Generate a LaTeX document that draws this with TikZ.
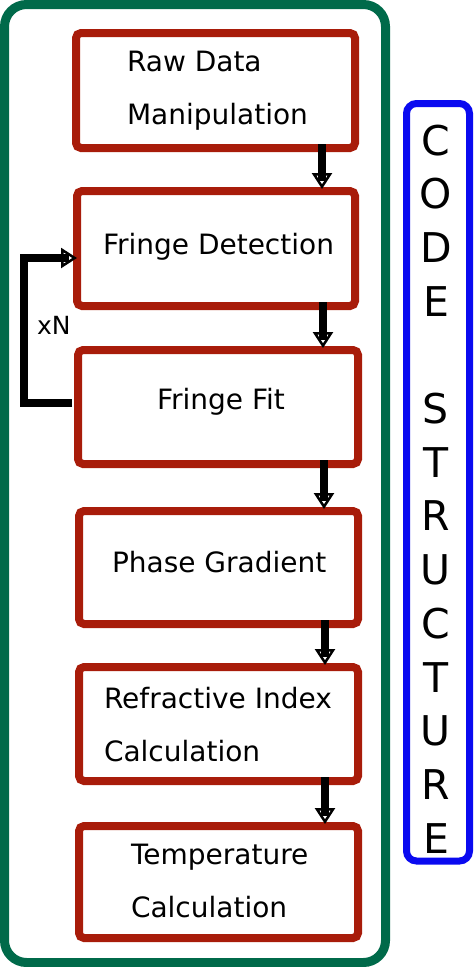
\documentclass[tikz,border=0pt]{standalone}
\usepackage{fontspec}
\setmainfont{DejaVu Sans}
\usetikzlibrary{arrows.meta}
\definecolor{boxred}{HTML}{A81C0A}
\definecolor{framegreen}{HTML}{006A4A}
\definecolor{sideblue}{HTML}{0A0AF0}
\begin{document}
\begin{tikzpicture}[x=1pt,y=-1pt,
  stepbox/.style={draw=boxred, line width=8pt, rounded corners=5pt, rectangle, inner sep=0pt, outer sep=0pt},
  lbl/.style={anchor=base west, inner sep=0pt, outer sep=0pt, font=\fontsize{28}{33}\selectfont},
  flow/.style={line width=8pt, line join=miter, -{Triangle[open,width=20pt,length=16pt,line width=2.5pt,fill=white]}},
  shaft/.style={line width=8pt},
  letter/.style={anchor=base, inner sep=0pt, outer sep=0pt, font=\fontsize{41}{49}\selectfont}]
\useasboundingbox (0,0) rectangle (474,967);
% outer frame
\draw[framegreen, line width=9pt, rounded corners=22pt] (4.5,4.5) rectangle (385.5,962.5);
% side box
\draw[sideblue, line width=7pt, rounded corners=10pt] (406.5,103.5) rectangle (469.5,861);
% boxes
\node[stepbox, minimum width=279pt, minimum height=115pt] (b1) at (215.5,90.5) {};
\node[stepbox, minimum width=278pt, minimum height=115pt] (b2) at (216,248.5) {};
\node[stepbox, minimum width=280pt, minimum height=114pt] (b3) at (218,407) {};
\node[stepbox, minimum width=279pt, minimum height=113pt] (b4) at (218.5,567.5) {};
\node[stepbox, minimum width=279pt, minimum height=114pt] (b5) at (218.5,724) {};
\node[stepbox, minimum width=279pt, minimum height=112pt] (b6) at (218.5,882) {};
% labels
\node[lbl] (t1a) at (127,71) {Raw Data};
\node[lbl] (t1b) at (127,124) {Manipulation};
\node[lbl] (t2) at (103,254) {Fringe Detection};
\node[lbl] (t3) at (157,409) {Fringe Fit};
\node[lbl] (t4) at (112,572) {Phase Gradient};
\node[lbl] (t5a) at (104,708) {Refractive Index};
\node[lbl] (t5b) at (104,761) {Calculation};
\node[lbl] (t6a) at (131,864) {Temperature};
\node[lbl] (t6b) at (131,917) {Calculation};
\node[lbl, font=\fontsize{25}{30}\selectfont] (xn) at (37,334) {xN};
% arrows
\coordinate (ax1) at (322,0);
\coordinate (ax2) at (323,0);
\coordinate (ax3) at (324,0);
\coordinate (ax4) at (325,0);
\coordinate (ax5) at (325,0);
\foreach \s/\t/\a in {b1/b2/ax1, b2/b3/ax2, b3/b4/ax3, b4/b5/ax4, b5/b6/ax5} {
  \draw[flow, shorten <=-4pt, shorten >=2pt] (\s.south -| \a) -- (\t.north -| \a);
  \draw[shaft, shorten <=-4pt, shorten >=10pt] (\s.south -| \a) -- (\t.north -| \a);
}
% loop
\coordinate (l1) at ([xshift=-6pt,yshift=4pt]b3.west);
\coordinate (l2) at ([yshift=-9.5pt]b2.west);
\coordinate (lx) at (24,0);
\draw[flow] (l1) -- (l1 -| lx) -- (l2 -| lx) -- (l2);
\draw[shaft, shorten >=8pt] (l2 -| lx) -- (l2);
% side letters
\foreach \ch/\k in {C/0,O/1,D/2,E/3,S/5,T/6,R/7,U/8,C/9,T/10,U/11,R/12,E/13}
  \node[letter] (L\k) at (436,155+53.7*\k) {\ch};
\end{tikzpicture}
\end{document}
